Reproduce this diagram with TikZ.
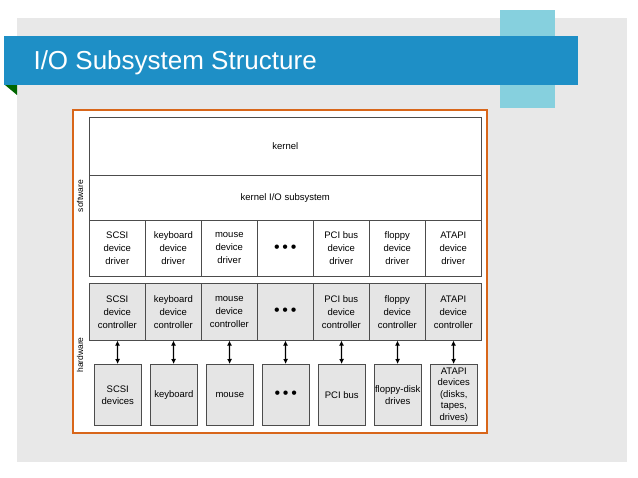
\documentclass[tikz,border=0pt]{standalone}
\usepackage{fontspec}
\setmainfont{Liberation Sans}
\usetikzlibrary{arrows.meta}
\definecolor{banner}{HTML}{1E8FC6}
\definecolor{tab}{HTML}{86D0DE}
\definecolor{frame}{HTML}{D8661A}
\begin{document}
\begin{tikzpicture}[x=1pt,y=-1pt,
  cell/.style={draw=black!70,line width=0.6pt,minimum width=56pt,anchor=north west,align=center,font=\fontsize{9.5}{13}\selectfont,inner sep=0pt},
  dev/.style={draw=black!70,line width=0.6pt,fill=black!10,minimum width=47pt,minimum height=61pt,anchor=north west,align=center,font=\fontsize{9.5}{12}\selectfont,inner sep=0pt},
  arr/.style={<->,>={Latex[length=5pt,width=5pt]},line width=1.2pt}]
\useasboundingbox (0,0) rectangle (638,478);
\fill[white] (0,0) rectangle (638,478);
\fill[black!9] (17,18) rectangle (627,462);
\fill[tab] (500,10) rectangle (555,108);
\fill[green!40!black] (5,85) -- (17,85) -- (17,95) -- cycle;
\fill[banner] (4,36) rectangle (578,85);
\node[anchor=west,white,font=\fontsize{26}{28}\selectfont] (title) at (30,63) {I/O Subsystem Structure};
\fill[white] (73,110) rectangle (487,433);
\draw[frame,line width=1.5pt] (73,110) rectangle (487,433);
\node[cell,minimum width=392pt,minimum height=58pt] (kernel) at (89,117) {kernel};
\node[cell,minimum width=392pt,minimum height=45pt] (kio) at (89,175) {kernel I/O subsystem};
\newcommand{\dts}{{\fontsize{16}{16}\selectfont\textbullet\,\textbullet\,\textbullet}}
\foreach \i/\t in {0/{SCSI\\device\\driver},1/{keyboard\\device\\driver},2/{mouse\\device\\driver},3/{\dts},4/{PCI bus\\device\\driver},5/{floppy\\device\\driver},6/{ATAPI\\device\\driver}}
  \node[cell,minimum height=56pt] (d\i) at (89+56*\i,220) {\t};
\foreach \i/\t in {0/{SCSI\\device\\controller},1/{keyboard\\device\\controller},2/{mouse\\device\\controller},3/{\dts},4/{PCI bus\\device\\controller},5/{floppy\\device\\controller},6/{ATAPI\\device\\controller}}
  \node[cell,fill=black!10,minimum height=57pt] (c\i) at (89+56*\i,283) {\t};
\foreach \i/\t in {0/{SCSI\\devices},1/{keyboard},2/{mouse},3/{\dts},4/{PCI bus},5/{floppy-disk\\drives}}
  \node[dev] (v\i) at (94+56*\i,364) {\t};
\node[dev,minimum height=61pt,font=\fontsize{9.5}{11.5}\selectfont] (v6) at (430,364) {ATAPI\\devices\\(disks,\\tapes,\\drives)};
\foreach \i in {0,...,6} \draw[arr] (c\i) -- (v\i);
\node[rotate=90,font=\fontsize{8.5}{9}\selectfont] (sw) at (80,196) {software};
\node[rotate=90,font=\fontsize{8.5}{9}\selectfont] (hw) at (80,355) {hardware};
\end{tikzpicture}
\end{document}
